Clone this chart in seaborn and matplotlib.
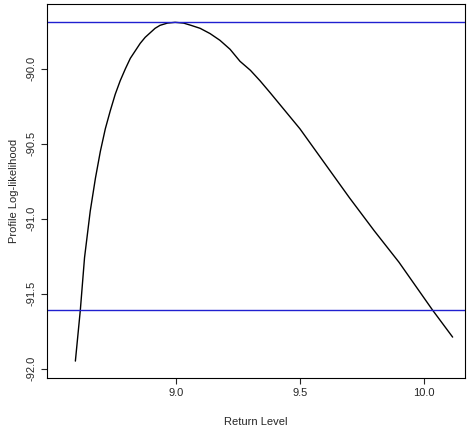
import numpy as np
import pandas as pd
import matplotlib
matplotlib.use("Agg")
import matplotlib.pyplot as plt
import seaborn as sns

# values
return_level = [8.593, 8.603, 8.613, 8.63, 8.653, 8.674, 8.694, 8.714, 8.734, 8.754, 8.774,
                8.795, 8.815, 8.835, 8.855, 8.875, 8.895, 8.915, 8.935, 8.965, 8.996,
                9.03, 9.06, 9.097, 9.137, 9.177, 9.218, 9.258, 9.30, 9.339, 9.38,
                9.42, 9.46, 9.50, 9.60, 9.70, 9.80, 9.90, 10.036, 10.117]
profile_ll = [-91.95, -91.78, -91.61, -91.26, -90.95, -90.73, -90.55, -90.40, -90.28,
              -90.17, -90.08, -90.00, -89.93, -89.88, -89.83, -89.79, -89.76, -89.73,
              -89.71, -89.695, -89.69, -89.695, -89.71, -89.73, -89.765, -89.81,
              -89.87, -89.95, -90.01, -90.08, -90.16, -90.24, -90.32, -90.40, -90.63,
              -90.86, -91.08, -91.29, -91.61, -91.79]
upper_line = -89.69
lower_line = -91.61

df = pd.DataFrame({"rl": return_level, "ll": profile_ll})

sns.set_style("white")
plt.rcParams['font.family'] = ['Liberation Sans', 'DejaVu Sans']

fig, ax = plt.subplots(figsize=(4.74, 4.34), dpi=100)
sns.lineplot(data=df, x="rl", y="ll", color="black", linewidth=1, ax=ax)
ax.axhline(upper_line, color="#2020d0", linewidth=1)
ax.axhline(lower_line, color="#2020d0", linewidth=1)

ax.set_xlim(8.48, 10.165)
ax.set_ylim(-92.06, -89.57)
ax.set_xticks([9.0, 9.5, 10.0])
ax.set_yticks([-92.0, -91.5, -91.0, -90.5, -90.0])
ax.set_yticklabels(["-92.0", "-91.5", "-91.0", "-90.5", "-90.0"], rotation=90, va="center")
ax.tick_params(labelsize=8, length=4, direction="out", left=True, bottom=True)
ax.set_xlabel("Return Level", fontsize=8, labelpad=14)
ax.set_ylabel("Profile Log-likelihood", fontsize=8, labelpad=6)
for s in ax.spines.values():
    s.set_color("black")
    s.set_linewidth(0.8)

fig.subplots_adjust(left=0.1, right=0.98, top=0.99, bottom=0.13)
fig.savefig("out.png", dpi=100)
